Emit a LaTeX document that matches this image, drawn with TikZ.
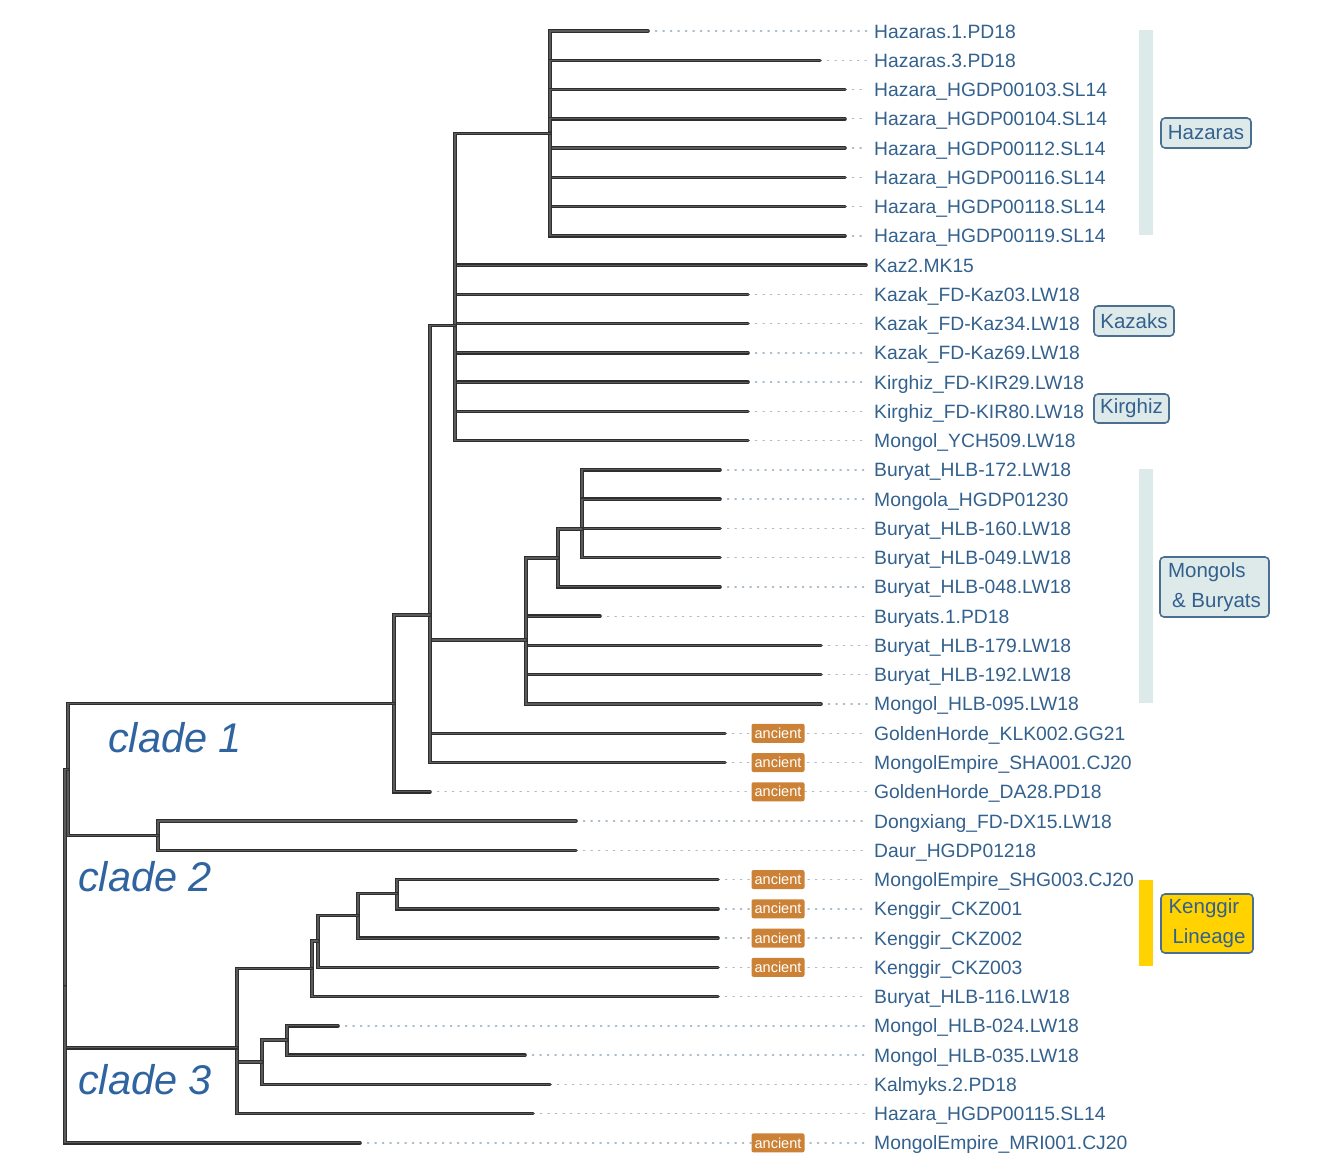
\documentclass[tikz,border=0pt]{standalone}
\usepackage{fontspec}
\setmainfont{Liberation Sans}
\definecolor{labblue}{HTML}{33618E}
\definecolor{cladeblue}{HTML}{2F64A0}
\definecolor{treedark}{HTML}{2E2E2E}
\definecolor{treemid}{HTML}{5A5A5A}
\definecolor{dotcol}{HTML}{A8BCCB}
\definecolor{barcol}{HTML}{DDEAEA}
\definecolor{boxfill}{HTML}{DEEAEA}
\definecolor{boxedge}{HTML}{4A6F90}
\definecolor{gold}{HTML}{FFD200}
\definecolor{badgecol}{HTML}{CC8236}
\begin{document}
\begin{tikzpicture}[x=1pt,y=-1pt,
  tree/.style={draw=treedark,line width=1.2pt,double=treemid,double distance=1.1pt,line cap=round},
  dotline/.style={draw=dotcol,line width=1.4pt,dash pattern=on 1.2pt off 6.3pt,line cap=round},
  leaflab/.style={anchor=base west,inner sep=0pt,text=labblue,font=\fontsize{19.3}{22}\selectfont},
  badge/.style={fill=badgecol,rounded corners=2pt,text=white,inner sep=0pt,minimum width=53pt,minimum height=19pt,font=\fontsize{14.5}{16}\selectfont},
  grpbox/.style={draw=boxedge,fill=boxfill,rounded corners=4pt,line width=1.6pt,text=labblue,inner sep=0pt,font=\fontsize{20.5}{30}\selectfont},
  grpbar/.style={fill=barcol,draw=none},
  cladelab/.style={text=cladeblue,inner sep=0pt,font=\fontsize{41.5}{44}\selectfont\itshape}
]
\useasboundingbox[fill=white] (0,0) rectangle (1322,1170);

% group bars
\fill[barcol] (1139,30) rectangle (1153,235);
\fill[barcol] (1139,469) rectangle (1153,703);
\fill[gold] (1139,880) rectangle (1153,966);

% leaves
\foreach \i/\ex/\txt/\anc in {
 0/648/Hazaras.1.PD18/0,
 1/820/Hazaras.3.PD18/0,
 2/845/Hazara\_HGDP00103.SL14/0,
 3/845/Hazara\_HGDP00104.SL14/0,
 4/845/Hazara\_HGDP00112.SL14/0,
 5/845/Hazara\_HGDP00116.SL14/0,
 6/845/Hazara\_HGDP00118.SL14/0,
 7/845/Hazara\_HGDP00119.SL14/0,
 8/866/Kaz2.MK15/0,
 9/748/Kazak\_FD-Kaz03.LW18/0,
 10/748/Kazak\_FD-Kaz34.LW18/0,
 11/748/Kazak\_FD-Kaz69.LW18/0,
 12/748/Kirghiz\_FD-KIR29.LW18/0,
 13/748/Kirghiz\_FD-KIR80.LW18/0,
 14/748/Mongol\_YCH509.LW18/0,
 15/720/Buryat\_HLB-172.LW18/0,
 16/720/Mongola\_HGDP01230/0,
 17/720/Buryat\_HLB-160.LW18/0,
 18/720/Buryat\_HLB-049.LW18/0,
 19/720/Buryat\_HLB-048.LW18/0,
 20/600/Buryats.1.PD18/0,
 21/821/Buryat\_HLB-179.LW18/0,
 22/821/Buryat\_HLB-192.LW18/0,
 23/821/Mongol\_HLB-095.LW18/0,
 24/725/GoldenHorde\_KLK002.GG21/1,
 25/725/MongolEmpire\_SHA001.CJ20/1,
 26/430/GoldenHorde\_DA28.PD18/1,
 27/576/Dongxiang\_FD-DX15.LW18/0,
 28/576/Daur\_HGDP01218/0,
 29/718/MongolEmpire\_SHG003.CJ20/1,
 30/718/Kenggir\_CKZ001/1,
 31/718/Kenggir\_CKZ002/1,
 32/718/Kenggir\_CKZ003/1,
 33/718/Buryat\_HLB-116.LW18/0,
 34/338/Mongol\_HLB-024.LW18/0,
 35/525/Mongol\_HLB-035.LW18/0,
 36/550/Kalmyks.2.PD18/0,
 37/533/Hazara\_HGDP00115.SL14/0,
 38/360/MongolEmpire\_MRI001.CJ20/1}{
  \pgfmathsetmacro\yy{31+29.26*\i}
  \coordinate (L\i) at (\ex,\yy);
  \coordinate (E\i) at (867,\yy);
  \draw[dotline] (L\i) -- (E\i);
  \node[leaflab] (lab\i) at (874,\yy+7) {\txt};
  \ifnum\anc=1 \node[badge] (anc\i) at (778,\yy) {ancient}; \fi
}

% internal nodes
\coordinate (n550) at (550,133.4);
\coordinate (n455) at (455,325.5);
\coordinate (n582) at (582,529);
\coordinate (n558) at (558,558);
\coordinate (n526) at (526,640);
\coordinate (n430) at (430,615);
\coordinate (n394) at (394,703.5);
\coordinate (n158) at (158,835.7);
\coordinate (n68) at (68,769.6);
\coordinate (n397) at (397,893.5);
\coordinate (n358) at (358,915.5);
\coordinate (n318) at (318,941);
\coordinate (n312) at (312,968.5);
\coordinate (n287) at (287,1040);
\coordinate (n262) at (262,1062);
\coordinate (n237) at (237,1047.8);
\coordinate (root) at (65,986.8);

% edges
\foreach \k in {0,...,7} \draw[tree] (n550) |- (L\k);
\foreach \k in {8,...,14} \draw[tree] (n455) |- (L\k);
\draw[tree] (n455) |- (n550);
\foreach \k in {15,...,18} \draw[tree] (n582) |- (L\k);
\draw[tree] (n558) |- (n582);
\draw[tree] (n558) |- (L19);
\foreach \k in {20,...,23} \draw[tree] (n526) |- (L\k);
\draw[tree] (n526) |- (n558);
\draw[tree] (n430) |- (n455);
\draw[tree] (n430) |- (n526);
\draw[tree] (n430) |- (L24);
\draw[tree] (n430) |- (L25);
\draw[tree] (n394) |- (n430);
\draw[tree] (n394) |- (L26);
\draw[tree] (n158) |- (L27);
\draw[tree] (n158) |- (L28);
\draw[tree] (n68) |- (n394);
\draw[tree] (n68) |- (n158);
\draw[tree] (n397) |- (L29);
\draw[tree] (n397) |- (L30);
\draw[tree] (n358) |- (n397);
\draw[tree] (n358) |- (L31);
\draw[tree] (n318) |- (n358);
\draw[tree] (n318) |- (L32);
\draw[tree] (n312) |- (n318);
\draw[tree] (n312) |- (L33);
\draw[tree] (n287) |- (L34);
\draw[tree] (n287) |- (L35);
\draw[tree] (n262) |- (n287);
\draw[tree] (n262) |- (L36);
\draw[tree] (n237) |- (n312);
\draw[tree] (n237) |- (n262);
\draw[tree] (n237) |- (L37);
\draw[tree] (root) |- (n68);
\draw[tree] (root) |- (n237);
\draw[tree] (root) |- (L38);

% clade labels
\node[cladelab] (c1) at (175,738) {clade 1};
\node[cladelab] (c2) at (145,877) {clade 2};
\node[cladelab] (c3) at (145,1080) {clade 3};

% group boxes
\node[grpbox,minimum width=90pt,minimum height=30pt] (gHaz) at (1206,133) {Hazaras};
\node[grpbox,minimum width=80pt,minimum height=30pt] (gKaz) at (1134,321) {Kazaks};
\node[grpbox,minimum width=75pt,minimum height=29pt] (gKir) at (1131.5,408.5) {Kirghiz};
\node[grpbox,minimum width=109pt,minimum height=60pt,align=left] (gMon) at (1214.5,587) {Mongols\\\hspace*{4pt}\& Buryats};
\node[grpbox,fill=gold,minimum width=92pt,minimum height=59pt,align=left] (gKen) at (1207,923.5) {Kenggir\\\hspace*{4pt}Lineage};
\end{tikzpicture}
\end{document}
